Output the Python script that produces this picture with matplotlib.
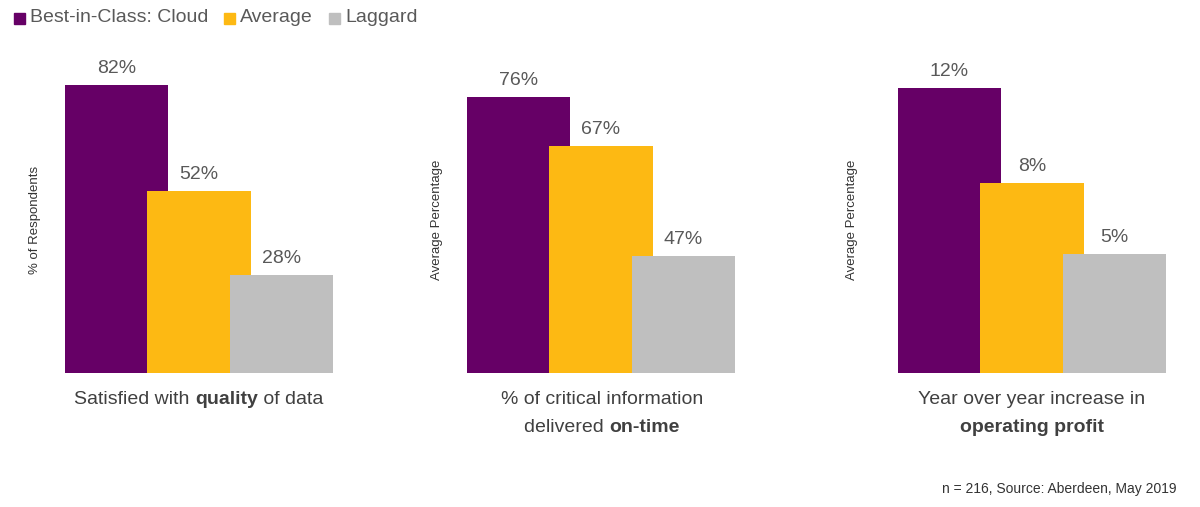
import matplotlib
matplotlib.use('Agg')
import matplotlib.pyplot as plt

series = ['Best-in-Class: Cloud', 'Average', 'Laggard']
colors = ['#660066', '#FDB913', '#BFBFBF']
panel1 = [82, 52, 28]
panel2 = [76, 67, 47]
panel3 = [12, 8, 5]
labels1 = ['82%', '52%', '28%']
labels2 = ['76%', '67%', '47%']
labels3 = ['12%', '8%', '5%']
ylabels = ['% of Respondents', 'Average Percentage', 'Average Percentage']
# each category line is a list of (text, bold) pieces
cats = [
    [[('Satisfied with ', False), ('quality', True), (' of data', False)]],
    [[('% of critical information', False)], [('delivered ', False), ('on-time', True)]],
    [[('Year over year increase in', False)], [('operating profit', True)]],
]

TXT = '#595959'
W, H = 1200, 507
fig = plt.figure(figsize=(12, 5.07), dpi=100)
plt.rcParams['font.family'] = ['Liberation Sans', 'DejaVu Sans']

lefts = [65, 467, 898]
ylims = [(0, 89.2), (25.6, 82.7), (0, 13.18)]
ylab_x = [35, 437, 852]
data = [(panel1, labels1), (panel2, labels2), (panel3, labels3)]
xs = [0, 0.8, 1.6]

for i in range(3):
    ax = fig.add_axes([lefts[i] / W, (H - 373) / H, 268 / W, 313 / H])
    vals, labs = data[i]
    ax.bar(xs, vals, width=1.0, color=colors)
    for x, v, l in zip(xs, vals, labs):
        ax.text(x, v + (ylims[i][1] - ylims[i][0]) * 0.025, l, ha='center', va='bottom',
                fontsize=14, color=TXT)
    ax.set_xlim(-0.5, 2.1)
    ax.set_ylim(*ylims[i])
    ax.axis('off')
    fig.text(ylab_x[i] / W, (H - 220) / H, ylabels[i], rotation=90, ha='center', va='center',
             fontsize=9.5, color='#333333')

fig.canvas.draw()
r = fig.canvas.get_renderer()
centers = [199, 602, 1032]
for i, lines in enumerate(cats):
    for j, line in enumerate(lines):
        y = (H - 400 - j * 27) / H
        parts = []
        for t, b in line:
            parts.append(fig.text(0, y, t, fontsize=14, color='#404040', va='center',
                                  fontweight='bold' if b else 'normal'))
        widths = [p.get_window_extent(r).width for p in parts]
        x = centers[i] - sum(widths) / 2
        for p, w in zip(parts, widths):
            p.set_x(x / W)
            x += w

# legend
lx = 14
for s, c in zip(series, colors):
    fig.patches.append(plt.Rectangle((lx / W, (H - 24) / H), 11 / W, 11 / H, color=c,
                                     transform=fig.transFigure))
    t = fig.text((lx + 16) / W, (H - 18) / H, s, fontsize=14, color=TXT, va='center')
    lx += 16 + t.get_window_extent(r).width + 16

fig.text(1176 / W, (H - 489) / H, 'n = 216, Source: Aberdeen, May 2019', ha='right',
         va='center', fontsize=10, color='#333333')

fig.savefig('out.png', dpi=100)
